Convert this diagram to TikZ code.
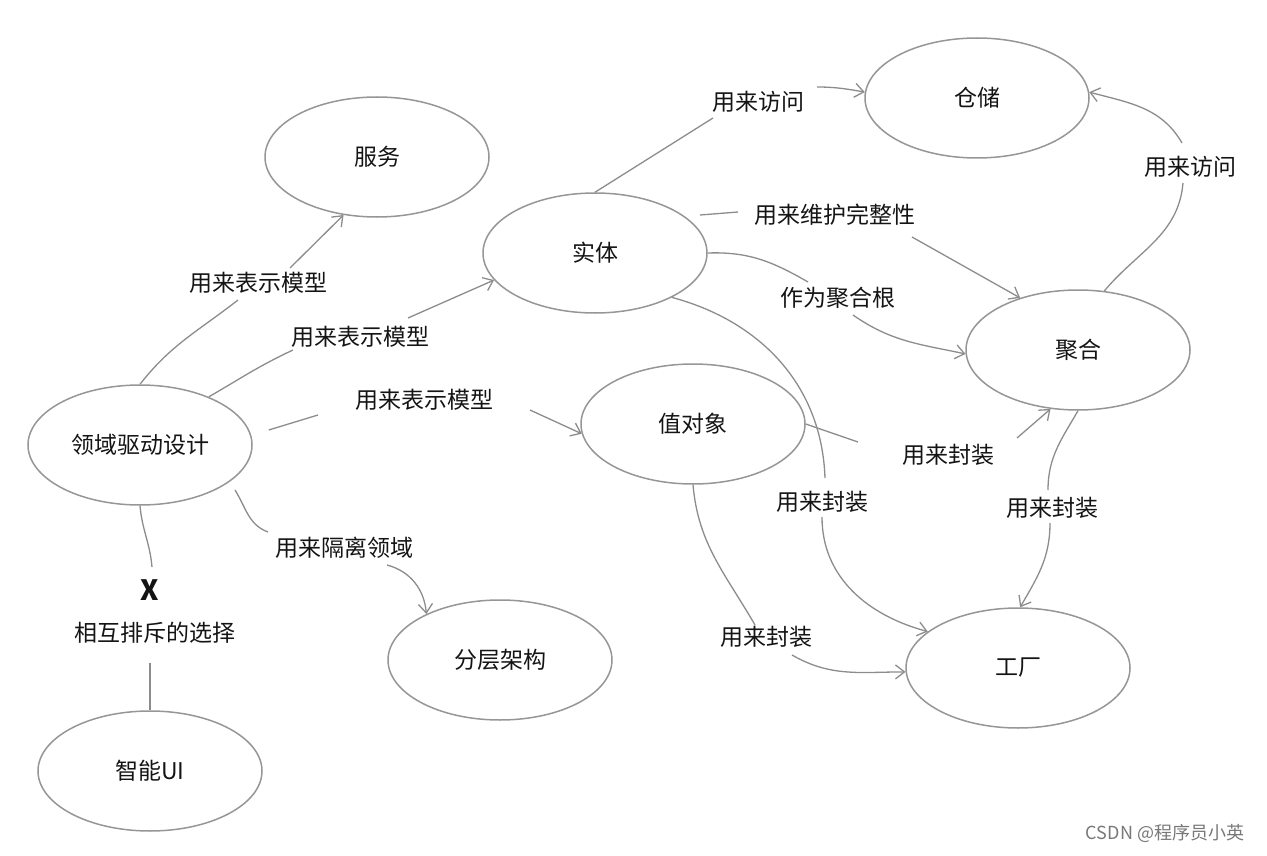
\documentclass[tikz,border=0pt]{standalone}
\usepackage{fontspec}
\setmainfont{Noto Sans CJK SC}
\usetikzlibrary{shapes.geometric,arrows.meta,calc}
\definecolor{lineGray}{RGB}{140,140,140}
\definecolor{rimGray}{RGB}{150,150,150}
\definecolor{textDark}{RGB}{20,20,20}
\definecolor{markGray}{RGB}{120,120,120}
\newcommand{\cnfont}{\fontsize{23}{27}\selectfont}
\tikzset{
    concept/.style={ellipse, draw=rimGray, line width=1.5pt,
        minimum width=224pt, minimum height=120pt, inner sep=0pt,
        font=\cnfont, text=textDark},
    linklabel/.style={inner sep=2pt, font=\cnfont, text=textDark},
    conn/.style={draw=lineGray, line width=1.3pt},
    arr/.style={conn, -{Straight Barb[length=9pt,width=14pt]}},
}

\begin{document}
\begin{tikzpicture}[x=1pt,y=1pt]
\useasboundingbox (0,0) rectangle (1267,-856);

% Concepts
\node[concept] (service) at (377,-157) {服务};
\node[concept] (repo) at (977,-98) {仓储};
\node[concept] (entity) at (595,-253) {实体};
\node[concept] (aggregate) at (1078,-350) {聚合};
\node[concept] (valobj) at (693,-424) {值对象};
\node[concept] (ddd) at (140,-445) {领域驱动设计};
\node[concept] (layered) at (500,-660) {分层架构};
\node[concept] (factory) at (1018,-668) {工厂};
\node[concept] (smartui) at (150,-771) {智能UI};

% Connector labels
\node[linklabel] (lModelSvc) at (258,-283) {用来表示模型};
\node[linklabel] (lModelEnt) at (360,-337) {用来表示模型};
\node[linklabel] (lModelVo) at (424,-400) {用来表示模型};
\node[linklabel] (lIsolate) at (344,-548) {用来隔离领域};
\node[font=\fontsize{28}{30}\selectfont\bfseries, text=textDark] (xmark) at (150,-590) {X};
\node[linklabel] (lExclusive) at (155,-633) {相互排斥的选择};
\node[linklabel] (lAccessEnt) at (758,-102) {用来访问};
\node[linklabel] (lIntegrity) at (835,-215) {用来维护完整性};
\node[linklabel] (lRoot) at (838,-298) {作为聚合根};
\node[linklabel] (lEncVoAgg) at (948,-455) {用来封装};
\node[linklabel] (lEncEnt) at (822,-502) {用来封装};
\node[linklabel] (lEncAgg) at (1052,-508) {用来封装};
\node[linklabel] (lEncVo) at (766,-637) {用来封装};
\node[linklabel] (lAccessAgg) at (1190,-167) {用来访问};

% Watermark
\node[font=\fontsize{18}{20}\selectfont, text=markGray] (mark) at (1165,-833) {CSDN @程序员小英};

% Domain-driven design
\draw[conn] (ddd.north) to[out=52,in=218] ($(lModelSvc)+(-20,-17)$);
\draw[arr] ($(lModelSvc)+(32,15)$) -- (service.240);
\draw[conn] (ddd.35) to[out=30,in=205] ($(lModelEnt)+(-67,-13)$);
\draw[arr] ($(lModelEnt)+(48,19)$) -- (entity.195);
\draw[conn] ($(ddd.east)+(16,15)$) -- ($(lModelVo)+(-106,-15)$);
\draw[arr] ($(lModelVo)+(106,-10)$) -- (valobj.185);
\draw[conn] ($(ddd)+(95,-45)$) to[out=-58,in=160] ($(lIsolate)+(-76,16)$);
\draw[arr] ($(lIsolate)+(43,-17)$) to[out=-15,in=95] (layered.148);
\draw[conn] (ddd.south) to[out=-85,in=95] ($(xmark)+(2,23)$);
\draw[conn] ($(lExclusive)+(-5,-30)$) -- (smartui.north);

% Entity
\draw[conn] (entity.north) -- ($(lAccessEnt)+(-45,-16)$);
\draw[arr] ($(lAccessEnt)+(59,15)$) to[out=0,in=170] (repo.177);
\draw[conn] ($(entity)+(105,38)$) -- ($(lIntegrity)+(-97,3)$);
\draw[arr] ($(lIntegrity)+(77,-22)$) -- (aggregate.138);
\draw[conn] (entity.east) to[out=2,in=150] ($(lRoot)+(-30,16)$);
\draw[arr] ($(lRoot)+(15,-17)$) to[out=-35,in=168] (aggregate.182);
\draw[conn] (entity.-30) to[out=-15,in=92] ($(lEncEnt)+(3,24)$);
\draw[arr] ($(lEncEnt)+(0,-15)$) to[out=-90,in=165] (factory.158);

% Value object
\draw[conn] (valobj.east) -- ($(lEncVoAgg)+(-90,13)$);
\draw[arr] ($(lEncVoAgg)+(69,17)$) -- (aggregate.245);
\draw[conn] (valobj.south) to[out=-85,in=120] ($(lEncVo)+(-11,12)$);
\draw[arr] ($(lEncVo)+(26,-18)$) to[out=-30,in=180] (factory.182);

% Aggregate
\draw[conn] (aggregate.south) to[out=-120,in=90] ($(lEncAgg)+(-4,18)$);
\draw[arr] ($(lEncAgg)+(-2,-15)$) to[out=-90,in=60] (factory.88);
\draw[conn] (aggregate.66) to[out=50,in=-95] ($(lAccessAgg)+(-7,-16)$);
\draw[arr] ($(lAccessAgg)+(-8,24)$) to[out=120,in=-15] (repo.3);

\end{tikzpicture}
\end{document}
